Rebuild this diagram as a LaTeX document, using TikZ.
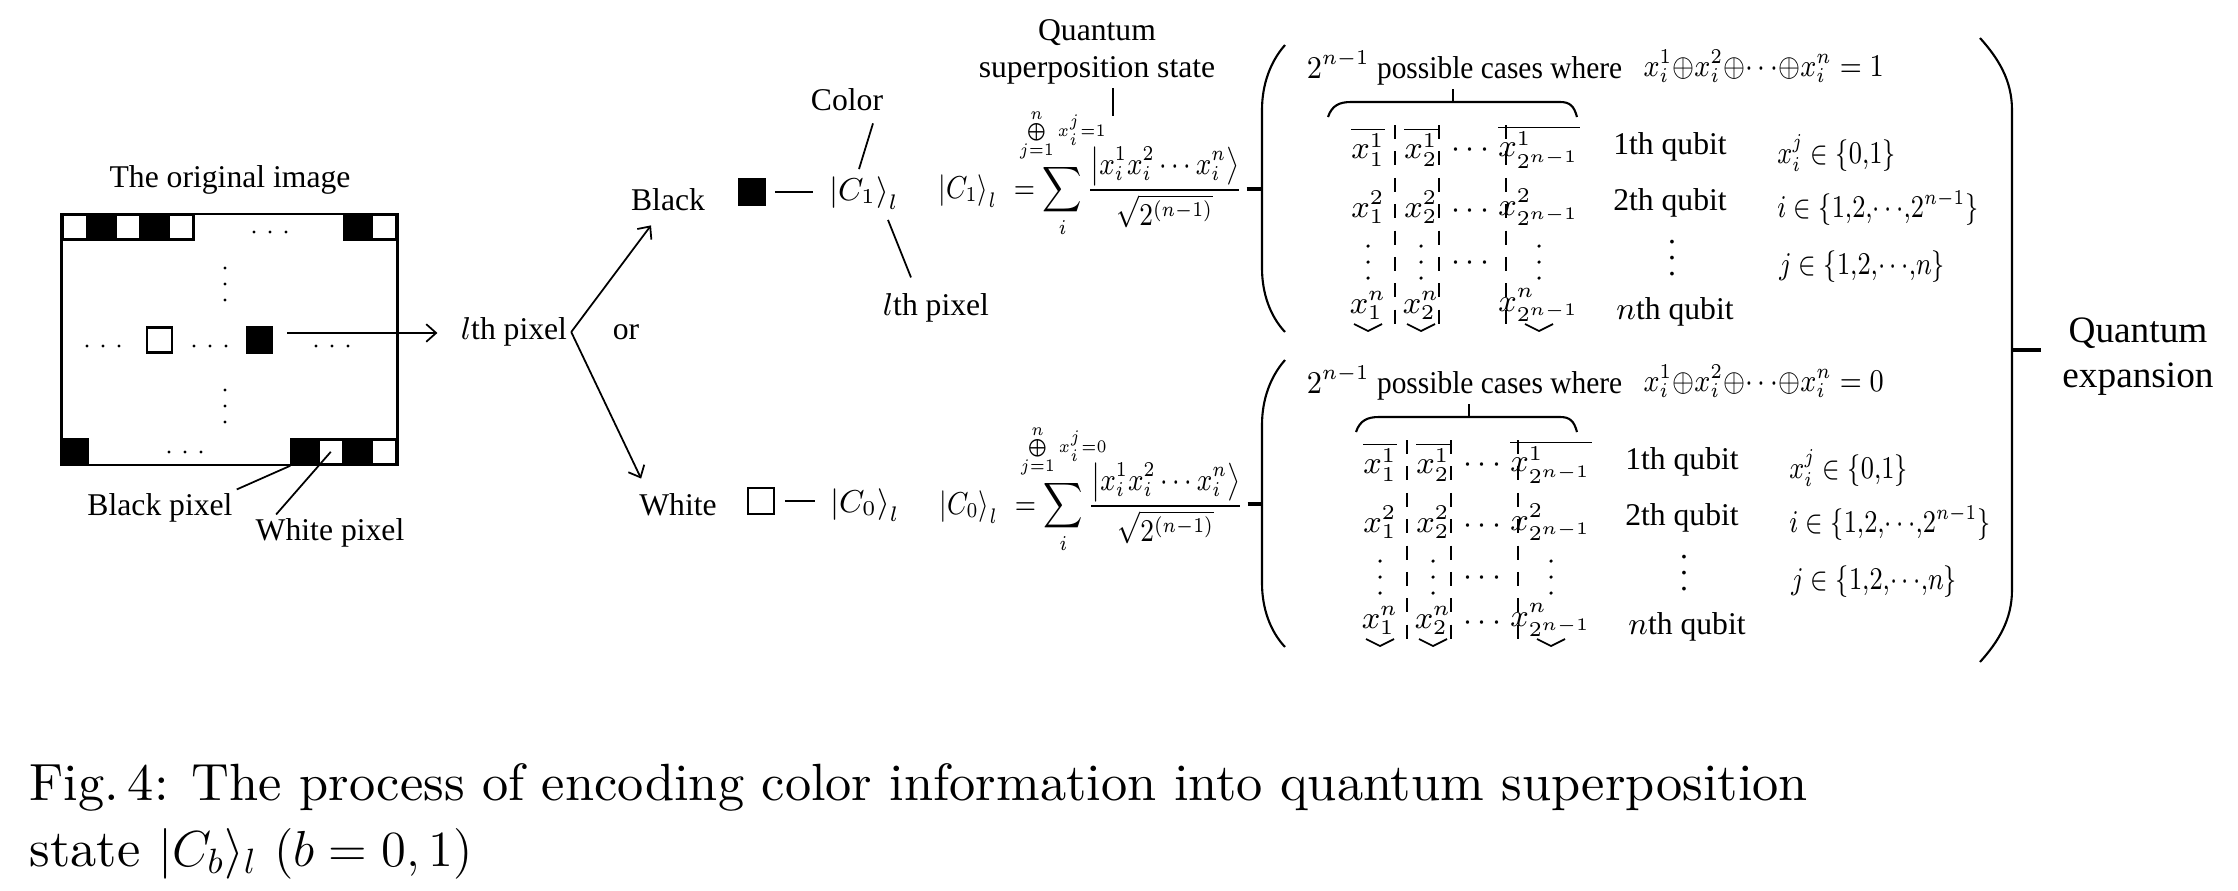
\documentclass[tikz,border=0pt]{standalone}
\usepackage{amsmath,amssymb}
\usepackage{fontspec}
\newfontfamily\tnr{Liberation Serif}
\newfontfamily\capfont{lmroman10-regular.otf}
\usetikzlibrary{arrows.meta,positioning,calc}
\tikzset{
  lbl/.style={font=\tnr\fontsize{9}{10.4}\selectfont,inner sep=1pt},
  cnd/.style={lbl,xscale=#1},
  cnd/.default=0.81,
  cell/.style={lbl,inner sep=0pt},
  bpix/.style={draw,line width=0.8pt,fill=black,minimum size=0.25cm,inner sep=0pt},
  wpix/.style={bpix,fill=white},
  arr/.style={-{Straight Barb[length=2.8pt,width=5pt]},line width=0.5pt},
  ln/.style={line width=0.5pt},
  par/.style={line width=0.6pt},
  dsh/.style={line width=0.55pt,dash pattern=on 4pt off 3.5pt},
  capt/.style={font=\capfont\fontsize{14.9}{18}\selectfont,inner sep=0pt}
}
\newcommand{\uplim}[1]{\makebox[0pt]{$\scriptscriptstyle\bigoplus\limits_{j=1}^{n}x_i^j{=}#1$}}
\newcommand{\vdts}{\vbox{\baselineskip4.6pt\lineskiplimit0pt\hbox{.}\hbox{.}\hbox{.}}}

\begin{document}
\begin{tikzpicture}[x=0.01cm,y=-0.01cm]
  \useasboundingbox (0,0) rectangle (2238,890);

  % the original image
  \node[lbl] (orig) at (230,180) {The original image};
  \node[draw,line width=0.8pt,minimum width=3.35cm,minimum height=2.51cm,inner sep=0pt] (img) at (229.5,339.5) {};
  \foreach \cl [count=\i] in {wpix,bpix,wpix,bpix,wpix}
    \node[\cl] (tl\i) at ({75.2+26.4*(\i-1)},227.2) {};
  \node[bpix] (tr1) at (357.3,227.2) {};
  \node[wpix] (tr2) at (383.8,227.2) {};
  \node[bpix] (bl1) at (75.2,451.8) {};
  \foreach \cl [count=\i] in {bpix,wpix,bpix,wpix}
    \node[\cl] (br\i) at ({304.3+26.5*(\i-1)},451.8) {};
  \node[wpix] (mw) at (159.5,340) {};
  \node[bpix] (mb) at (259.5,340) {};
  \foreach \cx/\cy in {270/232,103/346,210/346,332/346,185/452}
    \foreach \k in {-1,0,1} \fill ({\cx+16*\k},\cy) circle (0.45pt);
  \foreach \cy in {284,406}
    \foreach \k in {-1,0,1} \fill (225,{\cy+16*\k}) circle (0.45pt);
  \node[lbl] (bpl) at (160,508) {Black pixel};
  \node[lbl] (wpl) at (330,533) {White pixel};
  \draw[ln] (br1.south west) -- (bpl.north east);
  \draw[ln] (br2.center) -- ([xshift=7pt]wpl.north west);

  % pixel -> black / white
  \node[lbl] (lpx) at (514,332) {$l$th pixel};
  \node[lbl] (or) at (626,332) {or};
  \draw[arr,shorten <=4pt,shorten >=5.5pt] ([yshift=2pt]mb.east) -- ([yshift=2pt]mb.east -| lpx.west);
  \node[lbl] (blk) at (668,200) {Black};
  \node[lbl] (wht) at (678,505) {White};
  \draw[arr] (lpx.east) -- ($(blk.south)+(-17,10)$);
  \draw[arr] (lpx.east) -- ($(wht.north west)+(6,-11)$);

  \node[bpix,minimum size=0.26cm] (sq1) at (752,192) {};
  \node[wpix,minimum size=0.26cm] (sq0) at (761,501) {};
  \node[lbl] (k1) at (864,193) {$\left|C_1\right\rangle_l$};
  \node[lbl] (k0) at (865,505) {$\left|C_0\right\rangle_l$};
  \draw[ln,shorten <=2.4pt,shorten >=3.5pt] (sq1.east) -- (k1.west |- sq1.east);
  \draw[ln,shorten <=2.7pt,shorten >=3pt] (sq0.east) -- (k0.west |- sq0.east);
  \node[lbl] (col) at (847,100) {Color};
  \node[lbl] (lp2) at (936,308) {$l$th pixel};
  \draw[ln] ($(col.south)+(26,8)$) -- ($(k1.north)+(-5,-3)$);
  \draw[ln] ($(k1.south)+(24,6)$) -- ($(lp2.north)+(-25,-12)$);

  % superposition states
  \node[lbl,align=center] (qss) at (1097,52) {Quantum\\superposition state};
  \node[cnd=0.84,anchor=base west] (f1) at (935,198)
    {$\displaystyle\left|C_1\right\rangle_l\mkern6mu=\sum\limits_i^{\uplim{1}}\frac{\left|x_i^1x_i^2\cdots x_i^n\right\rangle}{\sqrt{2^{(n-1)}}}$};
  \node[cnd=0.84,anchor=base west] (f0) at (936,514)
    {$\displaystyle\left|C_0\right\rangle_l\mkern6mu=\sum\limits_i^{\uplim{0}}\frac{\left|x_i^1x_i^2\cdots x_i^n\right\rangle}{\sqrt{2^{(n-1)}}}$};
  \coordinate (f1top) at (1113,116);
  \draw[ln] (qss.south -| f1top) -- (f1top);
  \coordinate (pl1) at (1262,189);
  \coordinate (pl0) at (1262,504);
  \draw[line width=0.9pt] (f1.east |- pl1) -- (pl1);
  \draw[line width=0.9pt] (f0.east |- pl0) -- (pl0);

  % the two expansions
  \foreach \pre/\dy/\dx/\val/\bl/\bt in {u/0/0/1/1328/1453,d/315/12/0/1356/1469}{
    \begin{scope}[shift={(0,\dy)}]
      \draw[par] (1285,45) .. controls (1270,62) and (1262,85) .. (1262,110) -- (1262,268)
        .. controls (1262,293) and (1270,316) .. (1285,332);
      \node[cnd=0.93,anchor=west] (\pre-pc) at (1303,68) {$2^{n-1}$ possible cases where};
      \node[cnd=0.87,anchor=west] (\pre-eq) at (1640,66) {$x_i^1{\oplus}x_i^2{\oplus}{\cdots}{\oplus}x_i^n=\val$};
      \draw[par] (\bl,117) .. controls (\bl+4,105) and (\bl+12,102) .. (\bl+23,102) -- (1560,102)
        .. controls (1570,102) and (1574,106) .. (1577,117);
      \coordinate (\pre-ob) at (\bt,102);
      \draw[par] (\pre-ob) -- (\pre-ob |- \pre-pc.south);
      \begin{scope}[shift={(\dx,0)}]
        \foreach \s/\xx [count=\i] in {1/1368,2/1421,{2^{n-1}}/1539}{
          \node[cell] (\pre-a\i) at (\xx,147) {$\overline{x_{\s}^{1}}$};
          \node[cell] (\pre-b\i) at (\xx,207) {$x_{\s}^{2}$};
          \foreach \k in {-1,0,1} \fill (\xx,{262+16*\k}) circle (0.5pt);
          \node[cell] (\pre-d\i) at (\xx,305) {$x_{\s}^{n}$};
          \draw[ln] (\xx-14,324) -- (\xx,331) -- (\xx+14,324);
        }
        \node[cell] (\pre-a0) at (1473,150) {$\cdots$};
        \node[cell] (\pre-b0) at (1473,211) {$\cdots$};
        \node[cell] (\pre-c0) at (1473,263) {$\cdots$};
        \ifnum\val=0 \node[cell] (\pre-d0) at (1473,308) {$\cdots$}; \fi
        \foreach \xx in {1395,1439,1506} \draw[dsh] (\xx,125) -- (\xx,330);
        \node[lbl] (\pre-q1) at (1670,147) {1th qubit};
        \node[lbl] (\pre-q2) at (1670,203) {2th qubit};
        \node[lbl] (\pre-q3) at (1672,258) {\vdts};
        \node[lbl] (\pre-q4) at (1675,312) {$n$th qubit};
        \node[cnd,anchor=west] (\pre-r1) at (1774,153) {$x_i^j\in\{0{,}1\}$};
        \node[cnd,anchor=west] (\pre-r2) at (1774,208) {$i\in\{1{,}2{,}{\cdots}{,}2^{n-1}\}$};
        \node[cnd,anchor=west] (\pre-r3) at (1776,267) {$j\in\{1{,}2{,}{\cdots}{,}n\}$};
      \end{scope}
    \end{scope}
  }

  % quantum expansion
  \draw[par] (1980,38) .. controls (1998,58) and (2012,80) .. (2012,110) -- (2012,590)
    .. controls (2012,620) and (1998,642) .. (1980,662);
  \coordinate (pr) at (2012,350);
  \node[lbl,font=\tnr\fontsize{10.6}{12.8}\selectfont,align=center,inner xsep=5.8pt] (qexp) at (2138,357) {Quantum\\expansion};
  \draw[line width=0.9pt] (pr) -- (pr -| qexp.west);

  % caption
  \node[capt,anchor=base west] (cap1) at (29,800) {Fig.\,4: The process of encoding color information into quantum superposition};
  \node[capt,anchor=base west] (cap2) at (29,866) {state $|C_b\rangle_l$ $(b=0,1)$};
\end{tikzpicture}
\end{document}
